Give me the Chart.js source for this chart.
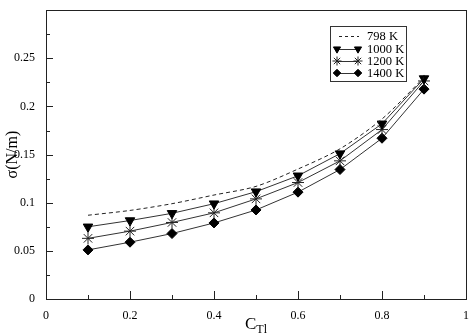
<!DOCTYPE html>
<html>
<head>
<meta charset="utf-8">
<script src="https://cdn.jsdelivr.net/npm/chart.js@4/dist/chart.umd.min.js"></script>
<style>
html,body{margin:0;padding:0;background:#fff;}
#wrap{width:474px;height:334px;position:relative;}
</style>
</head>
<body>
<div id="wrap"><canvas id="c" width="474" height="334"></canvas></div>
<script>
const cTl = [0.1, 0.2, 0.3, 0.4, 0.5, 0.6, 0.7, 0.8, 0.9];
const sigma798 = [0.087, 0.092, 0.099, 0.108, 0.117, 0.135, 0.156, 0.187, 0.230];
const sigma1000 = [0.075, 0.0815, 0.089, 0.099, 0.1115, 0.128, 0.151, 0.182, 0.229];
const sigma1200 = [0.063, 0.0705, 0.0795, 0.0895, 0.104, 0.121, 0.1435, 0.176, 0.2265];
const sigma1400 = [0.051, 0.059, 0.068, 0.079, 0.0925, 0.111, 0.1345, 0.167, 0.218];
const seriesLabels = ['798 K', '1000 K', '1200 K', '1400 K'];
const xTicks = [0, 0.2, 0.4, 0.6, 0.8, 1];
const yTicks = [0, 0.05, 0.1, 0.15, 0.2, 0.25];

const FONT = '"Liberation Serif", "DejaVu Serif", serif';
const pts = arr => cTl.map((x, i) => ({x: x, y: arr[i]}));

const datasets = [
  {label: seriesLabels[0], data: pts(sigma798), borderColor: '#222', borderWidth: 1, borderDash: [4, 3], pointRadius: 0, showLine: true, tension: 0.3},
  {label: seriesLabels[1], data: pts(sigma1000), borderColor: '#333', borderWidth: 1, pointStyle: 'triangle', rotation: 180, pointRadius: 5.5, pointBackgroundColor: '#000', pointBorderColor: '#000', showLine: true},
  {label: seriesLabels[2], data: pts(sigma1200), borderColor: '#333', borderWidth: 1, pointStyle: 'star', pointRadius: 6, pointBackgroundColor: '#000', pointBorderColor: '#222', pointBorderWidth: 1, showLine: true},
  {label: seriesLabels[3], data: pts(sigma1400), borderColor: '#333', borderWidth: 1, pointStyle: 'rectRot', pointRadius: 5, pointBackgroundColor: '#000', pointBorderColor: '#000', showLine: true}
];

const framePlugin = {
  id: 'frame',
  afterDatasetsDraw(chart) {
    const ctx = chart.ctx, a = chart.chartArea;
    const xs = chart.scales.x, ys = chart.scales.y;
    ctx.save();
    ctx.strokeStyle = '#222';
    ctx.lineWidth = 1;
    ctx.strokeRect(Math.round(a.left) + 0.5, Math.round(a.top) + 0.5, Math.round(a.right - a.left), Math.round(a.bottom - a.top));
    for (let i = 0; i <= 12; i++) {
      const v = i * 0.025;
      const py = Math.round(ys.getPixelForValue(v)) + 0.5;
      const len = (i % 2 === 0) ? 7 : 4;
      ctx.beginPath(); ctx.moveTo(a.left, py); ctx.lineTo(a.left + len, py); ctx.stroke();
    }
    for (let i = 0; i <= 10; i++) {
      const v = i * 0.1;
      const px = Math.round(xs.getPixelForValue(v)) + 0.5;
      const len = (i % 2 === 0) ? 8 : 4;
      ctx.beginPath(); ctx.moveTo(px, a.bottom); ctx.lineTo(px, a.bottom - len); ctx.stroke();
    }
    // x title with subscript
    ctx.fillStyle = '#000';
    ctx.textBaseline = 'alphabetic';
    ctx.textAlign = 'left';
    ctx.font = '17px ' + FONT;
    const cx = (a.left + a.right) / 2;
    const wC = ctx.measureText('C').width;
    ctx.font = '12px ' + FONT;
    const wS = ctx.measureText('Tl').width;
    const start = cx - (wC + wS) / 2;
    ctx.font = '17px ' + FONT;
    ctx.fillText('C', start, 329);
    ctx.font = '12px ' + FONT;
    ctx.fillText('Tl', start + wC, 333);
    // y title
    ctx.save();
    ctx.translate(17, (a.top + a.bottom) / 2);
    ctx.rotate(-Math.PI / 2);
    ctx.font = '16px ' + FONT;
    ctx.textAlign = 'center';
    ctx.fillText('σ(N/m)', 0, 0);
    ctx.restore();
    // legend
    const lx = 330.5, ly = 26.5, lw = 76, lh = 55;
    ctx.fillStyle = '#fff';
    ctx.fillRect(lx, ly, lw, lh);
    ctx.strokeStyle = '#333';
    ctx.strokeRect(lx, ly, lw, lh);
    const rows = [36, 49, 61, 73];
    chart.data.datasets.forEach((ds, i) => {
      const y = rows[i];
      ctx.strokeStyle = ds.borderColor;
      ctx.lineWidth = 1;
      ctx.setLineDash(ds.borderDash ? [3, 3] : []);
      ctx.beginPath(); ctx.moveTo(ds.borderDash ? 339 : 336, y + 0.5); ctx.lineTo(359, y + 0.5); ctx.stroke();
      ctx.setLineDash([]);
      if (ds.pointRadius > 0) {
        const opts = {pointStyle: ds.pointStyle, rotation: ds.rotation || 0, radius: ds.pointRadius * 0.75, borderWidth: ds.pointBorderWidth || 1};
        ctx.fillStyle = ds.pointBackgroundColor;
        ctx.strokeStyle = ds.pointBorderColor;
        Chart.helpers.drawPoint(ctx, opts, 337, y);
        ctx.fillStyle = ds.pointBackgroundColor;
        ctx.strokeStyle = ds.pointBorderColor;
        Chart.helpers.drawPoint(ctx, opts, 358, y);
      }
      ctx.fillStyle = '#000';
      ctx.font = '12.5px ' + FONT;
      ctx.textAlign = 'left';
      ctx.textBaseline = 'middle';
      ctx.fillText(ds.label, 367, y + 1);
    });
    ctx.restore();
  }
};

new Chart(document.getElementById('c'), {
  type: 'scatter',
  data: {datasets: datasets},
  options: {
    responsive: false,
    animation: false,
    layout: {padding: {left: 0, right: 8, top: 6, bottom: 0}},
    plugins: {legend: {display: false}, tooltip: {enabled: false}},
    scales: {
      x: {
        type: 'linear', min: 0, max: 1,
        grid: {display: false},
        border: {display: false},
        afterBuildTicks: s => { s.ticks = xTicks.map(v => ({value: v})); },
        ticks: {color: '#000', font: {family: FONT, size: 12}, padding: 2, maxRotation: 0,
          callback: v => String(v)},
        afterFit: s => { s.height = 35; }
      },
      y: {
        type: 'linear', min: 0, max: 0.3,
        grid: {display: false},
        border: {display: false},
        afterBuildTicks: s => { s.ticks = yTicks.map(v => ({value: v})); },
        ticks: {color: '#000', font: {family: FONT, size: 12}, padding: 3,
          callback: v => String(v)},
        afterFit: s => { s.width = 46; }
      }
    }
  },
  plugins: [framePlugin]
});
</script>
</body>
</html>
